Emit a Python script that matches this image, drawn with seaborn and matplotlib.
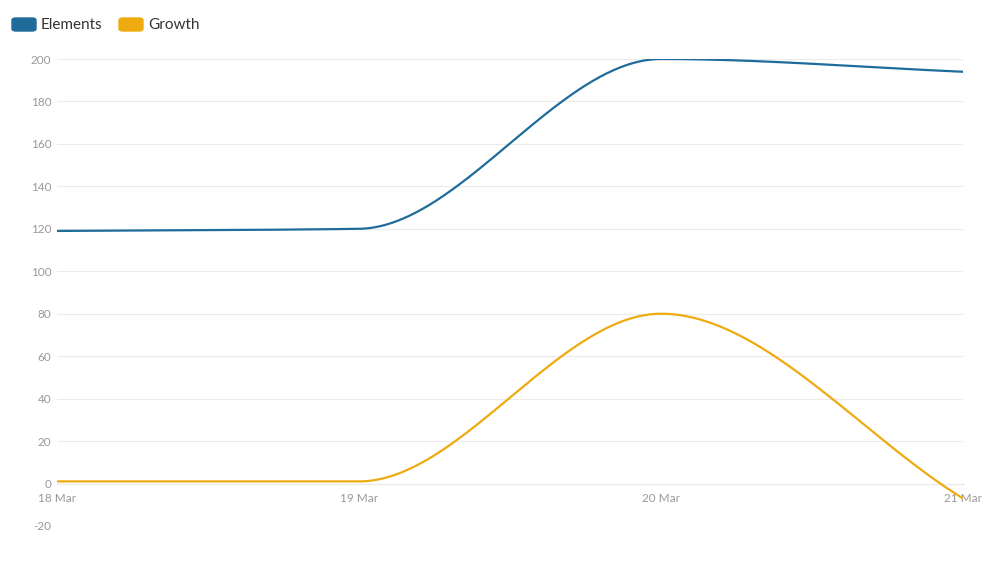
import numpy as np
import pandas as pd
import matplotlib
matplotlib.use("Agg")
import matplotlib.pyplot as plt
import seaborn as sns
from matplotlib.patches import FancyBboxPatch

dates = ["18 Mar", "19 Mar", "20 Mar", "21 Mar"]
elements = [119, 120, 200, 194]
growth = [1, 1, 80, -7]

sns.set_theme(style="white")
plt.rcParams['font.family'] = ['Lato', 'DejaVu Sans']
plt.rcParams['axes.unicode_minus'] = False

def pchip(x, y, xs):
    x = np.asarray(x, float); y = np.asarray(y, float)
    h = np.diff(x); d = np.diff(y) / h
    m = np.zeros_like(y)
    for k in range(1, len(y) - 1):
        if d[k-1] * d[k] > 0:
            w1 = 2*h[k] + h[k-1]; w2 = h[k] + 2*h[k-1]
            m[k] = (w1 + w2) / (w1/d[k-1] + w2/d[k])
    m[0] = d[0]; m[-1] = d[-1]
    out = np.empty_like(xs)
    for i, xv in enumerate(xs):
        k = min(np.searchsorted(x, xv, side='right') - 1, len(x) - 2)
        t = (xv - x[k]) / h[k]
        h00 = 2*t**3 - 3*t**2 + 1; h10 = t**3 - 2*t**2 + t
        h01 = -2*t**3 + 3*t**2; h11 = t**3 - t**2
        out[i] = h00*y[k] + h10*h[k]*m[k] + h01*y[k+1] + h11*h[k]*m[k+1]
    return out

xi = np.arange(len(dates))
xs = np.linspace(0, len(dates) - 1, 400)
df = pd.DataFrame({"x": np.concatenate([xs, xs]),
                   "y": np.concatenate([pchip(xi, elements, xs), pchip(xi, growth, xs)]),
                   "s": ["Elements"] * len(xs) + ["Growth"] * len(xs)})

fig = plt.figure(figsize=(9.82, 5.75), dpi=100)
ax = fig.add_axes([57/982, 1 - 526/575, (963-57)/982, (526-59)/575])
sns.lineplot(data=df, x="x", y="y", hue="s", palette=["#1f6b99", "#eeab0f"],
             linewidth=1.6, ax=ax, legend=False)
ax.set_xlim(0, 3)
ax.set_ylim(-20, 200)
ax.set_yticks(range(-20, 201, 20))
ax.set_xticks(xi)
ax.set_xticklabels(dates, rotation=45, ha="right", rotation_mode="anchor")
ax.set_xticks(np.arange(0, 3.01, 0.25), minor=True)
ax.tick_params(axis='x', which='both', length=5, color="#cccccc", labelcolor="#999999",
               labelsize=8.5, pad=2)
ax.tick_params(axis='y', length=0, colors="#999999", labelsize=8.5, pad=4)
ax.set_xlabel(""); ax.set_ylabel("")
ax.grid(axis='y', color="#ebebeb", linewidth=0.8)
for s in ax.spines.values():
    s.set_visible(False)
ax.spines['bottom'].set_visible(True)
ax.spines['bottom'].set_position(('data', 0))
ax.spines['bottom'].set_color("#cccccc")
ax.spines['bottom'].set_linewidth(0.8)
ax.spines['bottom'].set_zorder(0)

for x0, col, lab in [(12, "#1f6b99", "Elements"), (119, "#eeab0f", "Growth")]:
    fig.patches.append(FancyBboxPatch((x0/982, 1 - 31/575), 24/982, 13/575,
                                      boxstyle="round,pad=0,rounding_size=0.004",
                                      transform=fig.transFigure, color=col))
    fig.text((x0 + 29)/982, 1 - 25/575, lab, fontsize=11, color="#333333", va="center")

fig.savefig("out.png", dpi=100)
